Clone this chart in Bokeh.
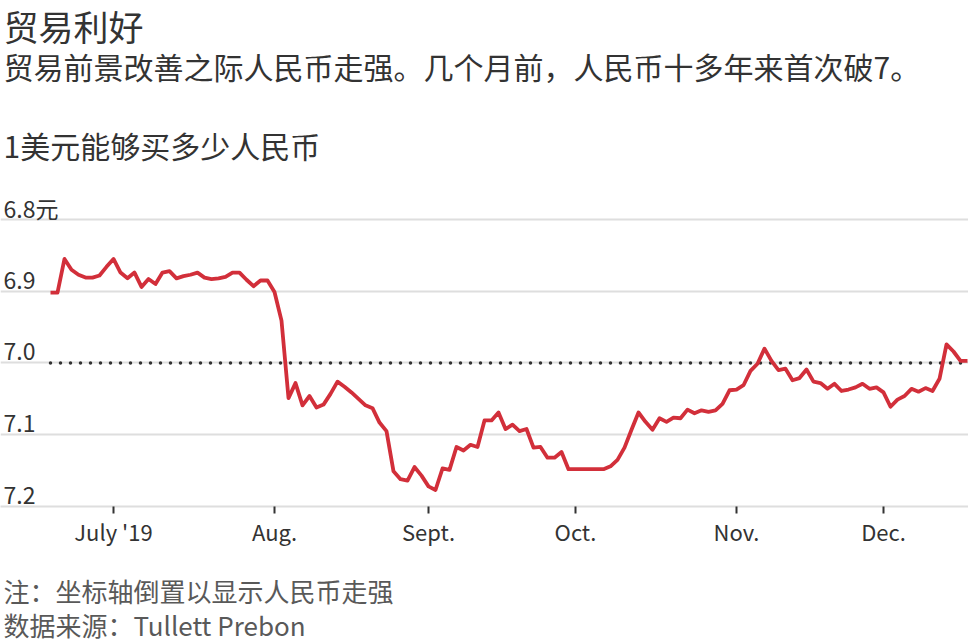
import pandas as pd
from bokeh.plotting import figure
from bokeh.layouts import column
from bokeh.models import Range1d, FixedTicker, Label
from bokeh.core.properties import value
from bokeh.embed import file_html
from bokeh.resources import INLINE

# ---------------- data ----------------
TITLE = "贸易利好"
SUBTITLE = "贸易前景改善之际人民币走强。几个月前，人民币十多年来首次破7。"
UNIT_LABEL = "1美元能够买多少人民币"
NOTE = "注：坐标轴倒置以显示人民币走强"
SOURCE = "数据来源：Tullett Prebon"

start_date = "2019-06-18"
end_date = "2019-12-18"

cny_per_usd = [
    6.902, 6.902, 6.855, 6.870, 6.877, 6.881, 6.881, 6.878, 6.866, 6.855,
    6.874, 6.882, 6.874, 6.894, 6.883, 6.890, 6.874, 6.872, 6.882, 6.879,
    6.877, 6.874, 6.881, 6.883, 6.882, 6.880, 6.874, 6.874, 6.884, 6.893,
    6.885, 6.885, 6.901, 6.941, 7.049, 7.028, 7.059, 7.046, 7.062, 7.058,
    7.043, 7.026, 7.033, 7.041, 7.050, 7.059, 7.063, 7.083, 7.095, 7.151,
    7.162, 7.164, 7.145, 7.157, 7.172, 7.177, 7.147, 7.149, 7.117, 7.122,
    7.114, 7.117, 7.080, 7.080, 7.069, 7.092, 7.086, 7.095, 7.092, 7.118,
    7.117, 7.132, 7.132, 7.124, 7.148, 7.148, 7.148, 7.148, 7.148, 7.148,
    7.144, 7.135, 7.118, 7.093, 7.069, 7.082, 7.093, 7.077, 7.082, 7.076,
    7.077, 7.065, 7.070, 7.066, 7.068, 7.066, 7.057, 7.038, 7.037, 7.031,
    7.011, 7.001, 6.980, 6.997, 7.010, 7.008, 7.024, 7.021, 7.009, 7.026,
    7.028, 7.036, 7.029, 7.039, 7.037, 7.034, 7.029, 7.036, 7.034, 7.041,
    7.061, 7.051, 7.046, 7.036, 7.040, 7.035, 7.039, 7.022, 6.974, 6.984,
    6.997, 6.997,
]

y_ticks = [6.8, 6.9, 7.0, 7.1, 7.2]
y_tick_labels = ["6.8元", "6.9", "7.0", "7.1", "7.2"]
month_labels = ["July '19", "Aug.", "Sept.", "Oct.", "Nov.", "Dec."]
reference_level = 7.0

FONT = "Noto Sans CJK SC"
RED = "#d22f3a"
DARK = "#333333"
GREY_TEXT = "#595959"

# ---------------- positions (trading-day index) ----------------
dates = pd.bdate_range(start_date, end_date)[: len(cny_per_usd)]
xs = list(range(len(dates)))

month_ticks = []
prev_month = dates[0].month
for i, d in enumerate(dates):
    if d.month != prev_month:
        month_ticks.append(i)
        prev_month = d.month
month_ticks = month_ticks[: len(month_labels)]

W = 968
X_START, X_END = -7.143, 131.143
Y_BOTTOM, Y_TOP = 7.2, 6.4948

p = figure(
    width=W, height=556,
    output_backend="svg", toolbar_location=None,
    x_range=Range1d(X_START, X_END), y_range=Range1d(Y_BOTTOM, Y_TOP),
    y_axis_location=None, title=None,
    min_border_left=0, min_border_right=0,
    min_border_top=0, min_border_bottom=50,
)
p.outline_line_color = None

# grid
p.xgrid.visible = False
p.ygrid.ticker = FixedTicker(ticks=y_ticks)
p.ygrid.grid_line_color = "#dedede"
p.ygrid.grid_line_width = 2

# x axis
p.xaxis.ticker = FixedTicker(ticks=month_ticks)
p.xaxis.major_label_overrides = {t: lab for t, lab in zip(month_ticks, month_labels)}
p.xaxis.axis_line_color = "#dedede"
p.xaxis.axis_line_width = 2
p.xaxis.major_tick_in = 0
p.xaxis.major_tick_out = 7
p.xaxis.major_tick_line_width = 2
p.xaxis.major_tick_line_color = DARK
p.xaxis.minor_tick_line_color = None
p.xaxis.major_label_text_font = FONT
p.xaxis.major_label_text_font_size = "22px"
p.xaxis.major_label_text_color = DARK
p.xaxis.major_label_standoff = 1

# y tick labels drawn above gridlines
p.text(
    x=[X_START] * len(y_ticks), y=y_ticks, text=y_tick_labels,
    text_font=value(FONT), text_font_size=value("23px"),
    text_color=DARK, text_align="left", text_baseline="alphabetic",
    x_offset=3, y_offset=-11,
)

# reference dotted line at 7.0
p.line(
    [xs[0], xs[-1]], [reference_level, reference_level],
    line_color=DARK, line_width=3.5, line_dash="0 10", line_cap="round",
)

# series
p.line(xs, cny_per_usd, line_color=RED, line_width=3.8, line_join="round")


def add_label(fig, txt, y, size, color=DARK, weight="normal"):
    fig.add_layout(Label(
        x=3, y=y, x_units="screen", y_units="screen", text=txt,
        text_font=FONT, text_font_size=size, text_color=color,
        text_font_style=weight, text_baseline="middle", text_align="left",
    ))


# header texts (screen units, measured up from the frame bottom)
add_label(p, TITLE, 481, "35px")
add_label(p, SUBTITLE, 440.5, "30px")
add_label(p, UNIT_LABEL, 362, "30px")

# footnote panel
f = figure(
    width=W, height=88, output_backend="svg", toolbar_location=None,
    x_range=Range1d(0, W), y_range=Range1d(0, 88),
    x_axis_location=None, y_axis_location=None, title=None,
    min_border_left=0, min_border_right=0, min_border_top=0, min_border_bottom=0,
)
f.outline_line_color = None
f.grid.visible = False
add_label(f, NOTE, 54.5, "26px", color=GREY_TEXT)
add_label(f, SOURCE, 20, "26px", color=GREY_TEXT)

open("out.html", "w").write(file_html(column(p, f, spacing=0), INLINE))
